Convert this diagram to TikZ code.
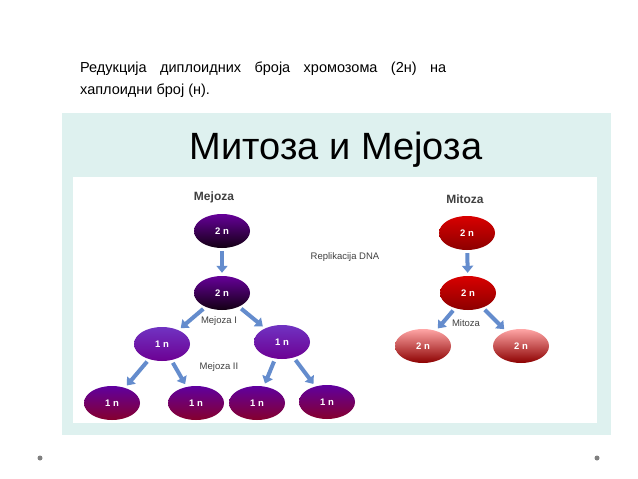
\documentclass[tikz,border=0pt]{standalone}
\usepackage{fontspec}
\setmainfont{Liberation Sans}
\usetikzlibrary{arrows.meta, positioning, shapes.geometric}

\definecolor{panelcyan}{RGB}{222,241,239}
\definecolor{arrowblue}{RGB}{100,140,205}

\tikzset{
    cell/.style={ellipse, minimum width=56pt, minimum height=34pt, inner sep=0pt,
                 font=\fontsize{9.5}{10}\selectfont\bfseries, text=white},
    mei/.style={cell, top color=violet!80!blue, bottom color=black!85!violet},
    meione/.style={cell, top color=violet!60!blue!80!white, bottom color=violet!85!blue},
    meibot/.style={cell, top color=violet!75!blue, bottom color=purple!70!black},
    mitdark/.style={cell, top color=red!85!black, bottom color=red!55!black},
    mitlight/.style={cell, top color=red!35!white, bottom color=red!55!black},
    blockarrow/.style={line width=4pt, draw=arrowblue,
                       -{Triangle[width=11pt, length=7pt]}, shorten >=3pt, shorten <=3pt},
    lbl/.style={font=\fontsize{9.5}{10}\selectfont, text=black!75}
}

\begin{document}
\begin{tikzpicture}[x=1pt, y=-1pt]
    \useasboundingbox (0,0) rectangle (638,479);
    \fill[white] (0,0) rectangle (638,479);

    % heading text
    \node[anchor=north west, inner sep=0pt, text width=366pt, align=justify,
          font=\fontsize{14.5}{22}\selectfont] (intro) at (80,62)
        {Редукција диплоидних броја хромозома (2н) на\linebreak хаплоидни број (н).};

    % panels
    \fill[panelcyan] (62,113) rectangle (611,435);
    \fill[white] (73,177) rectangle (597,423);
    \node[font=\fontsize{38}{39}\selectfont] (title) at (336,150) {Митоза и Мејоза};

    % meiosis
    \node[font=\fontsize{12}{13}\selectfont\bfseries, text=black!75] (meilabel) at (214,197) {Mejoza};
    \node[mei]    (m0) at (222,231) {2 n};
    \node[mei]    (m1) at (222,293) {2 n};
    \node[meione] (ma) at (162,344) {1 n};
    \node[meione] (mb) at (282,342) {1 n};
    \node[meibot] (b1) at (112,403) {1 n};
    \node[meibot] (b2) at (196,403) {1 n};
    \node[meibot] (b3) at (257,403) {1 n};
    \node[meibot] (b4) at (327,402) {1 n};
    \node[lbl] (mI)  at (219,321) {Mejoza I};
    \node[lbl] (mII) at (219,367) {Mejoza II};
    \node[lbl] (rep) at (345,257) {Replikacija DNA};

    \draw[blockarrow] (m0) -- (m1);
    \draw[blockarrow] (m1) -- (ma);
    \draw[blockarrow] (m1) -- (mb);
    \draw[blockarrow] (ma) -- (b1);
    \draw[blockarrow] (ma) -- (b2);
    \draw[blockarrow] (mb) -- (b3);
    \draw[blockarrow] (mb) -- (b4);

    % mitosis
    \node[font=\fontsize{12}{13}\selectfont\bfseries, text=black!75] (mitlabel) at (465,199) {Mitoza};
    \node[mitdark]  (t0) at (467,233) {2 n};
    \node[mitdark]  (t1) at (468,293) {2 n};
    \node[mitlight] (ta) at (423,346) {2 n};
    \node[mitlight] (tb) at (521,346) {2 n};
    \node[lbl] (mit) at (466,323) {Mitoza};

    \draw[blockarrow] (t0) -- (t1);
    \draw[blockarrow] (t1) -- (ta);
    \draw[blockarrow] (t1) -- (tb);

    % slide dots
    \fill[gray] (40,458) circle (2.5pt);
    \fill[gray] (597,458) circle (2.5pt);
\end{tikzpicture}
\end{document}
